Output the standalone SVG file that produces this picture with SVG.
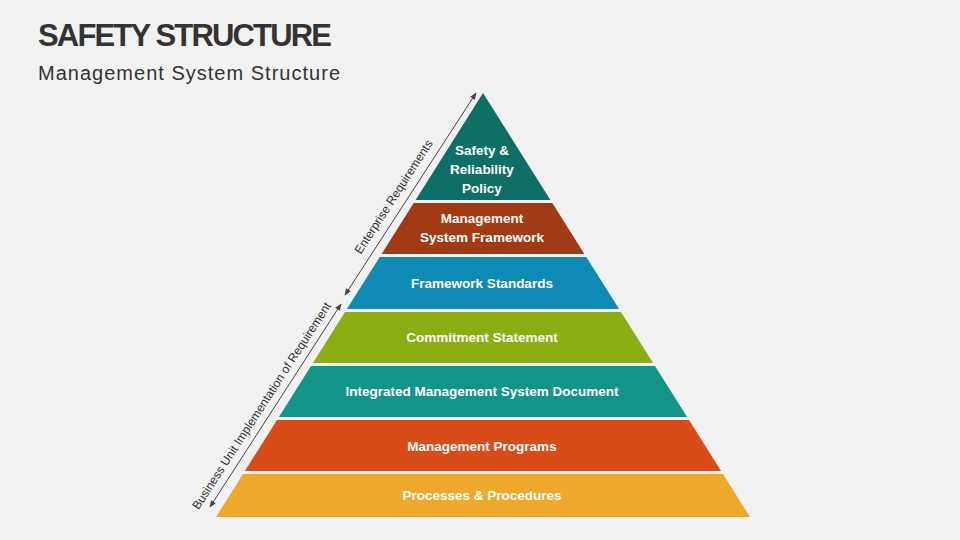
<svg xmlns="http://www.w3.org/2000/svg" width="960" height="540" viewBox="0 0 960 540">
<defs>
<style>
.t{font-family:"Liberation Sans",Arial,sans-serif;fill:#fff;font-size:13.5px;font-weight:bold;text-anchor:middle}
.s{font-family:"Liberation Sans",Arial,sans-serif;fill:#333;font-size:12px;text-anchor:middle}
.ar{stroke:#444;stroke-width:1;fill:none;marker-start:url(#ah);marker-end:url(#ah)}
</style>
<marker id="ah" viewBox="0 0 10 10" refX="9" refY="5" markerWidth="7" markerHeight="7" orient="auto-start-reverse"><path d="M0,1 L10,5 L0,9 z" fill="#444"/></marker>
</defs>
<rect width="960" height="540" fill="#F2F2F2"/>
<text x="38" y="46" font-family="Liberation Sans,Arial,sans-serif" font-size="31" font-weight="bold" fill="#333" textLength="294">SAFETY STRUCTURE</text>
<text x="38" y="80" font-family="Liberation Sans,Arial,sans-serif" font-size="20" fill="#333" textLength="302">Management System Structure</text>
<g id="l1"><polygon points="483,93 550.4,200 415.6,200" fill="#0E6F66"/><text class="t" x="482" y="155">Safety &amp;</text><text class="t" x="482" y="174">Reliability</text><text class="t" x="482" y="193">Policy</text></g>
<g id="l2"><polygon points="413.7,203 552.3,203 584.4,254 381.6,254" fill="#A23A14"/><text class="t" x="482" y="223">Management</text><text class="t" x="482" y="242">System Framework</text></g>
<g id="l3"><polygon points="379.7,257 586.3,257 619.1,309 346.9,309" fill="#0F8AB4"/><text class="t" x="482" y="288">Framework Standards</text></g>
<g id="l4"><polygon points="345,312 621,312 653.1,363 312.9,363" fill="#8BAE12"/><text class="t" x="482" y="342">Commitment Statement</text></g>
<g id="l5"><polygon points="311,366 655,366 687.1,417 278.9,417" fill="#129488"/><text class="t" x="482" y="396">Integrated Management System Document</text></g>
<g id="l6"><polygon points="277,420 689,420 721.1,471 244.9,471" fill="#D94C1A"/><text class="t" x="482" y="451">Management Programs</text></g>
<g id="l7"><polygon points="243,474 723,474 750,517 216,517" fill="#EFA92A"/><text class="t" x="482" y="500">Processes &amp; Procedures</text></g>
<g id="connectors">
<line class="ar" x1="476" y1="93" x2="345" y2="295"/>
<line class="ar" x1="341" y1="304" x2="210" y2="507"/>
</g>
<g id="labels">
<text class="s" transform="translate(397,199) rotate(-57)">Enterprise Requirements</text>
<text class="s" transform="translate(265,408) rotate(-57)">Business Unit Implementation of Requirement</text>
</g>
</svg>
